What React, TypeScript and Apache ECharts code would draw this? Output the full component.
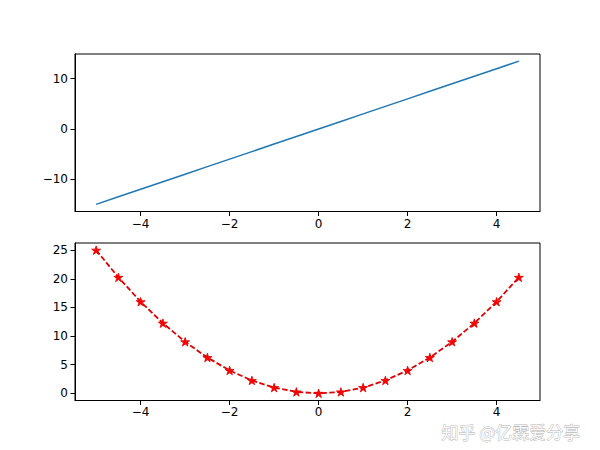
import React, { useEffect, useRef } from "react";
import * as echarts from "echarts";

const xValues = [-5, -4.5, -4, -3.5, -3, -2.5, -2, -1.5, -1, -0.5, 0, 0.5, 1, 1.5, 2, 2.5, 3, 3.5, 4, 4.5];
const linearValues = [-15, -13.5, -12, -10.5, -9, -7.5, -6, -4.5, -3, -1.5, 0, 1.5, 3, 4.5, 6, 7.5, 9, 10.5, 12, 13.5];
const squareValues = [25, 20.25, 16, 12.25, 9, 6.25, 4, 2.25, 1, 0.25, 0, 0.25, 1, 2.25, 4, 6.25, 9, 12.25, 16, 20.25];
const watermark = "知乎 @亿霖爱分享";

const STAR =
  "path://M0,-1L0.2245,-0.309L0.951,-0.309L0.363,0.118L0.588,0.809L0,0.382L-0.588,0.809L-0.363,0.118L-0.951,-0.309L-0.2245,-0.309Z";

const fmt = (v: number) => String(v).replace("-", "\u2212");

function axisCommon(min: number, max: number, splitNumber = 5, margin = 7) {
  return {
    type: "value" as const,
    min,
    max,
    splitNumber,
    scale: true,
    splitLine: { show: false },
    axisLine: { show: true, onZero: false, lineStyle: { color: "#000", width: 1 } },
    axisTick: { show: true, inside: false, length: 4.5, lineStyle: { color: "#000", width: 1 } },
    axisLabel: {
      color: "#000",
      fontSize: 12,
      lineHeight: 12,
      fontFamily: "DejaVu Sans",
      margin,
      showMinLabel: false,
      showMaxLabel: false,
      formatter: fmt,
    },
  };
}

export default function App() {
  const ref = useRef<HTMLDivElement>(null);
  useEffect(() => {
    if (!ref.current) return;
    const chart = echarts.init(ref.current, undefined, { renderer: "svg" });
    const xr: [number, number] = [-5.475, 4.975];
    chart.setOption({
      animation: false,
      backgroundColor: "#fff",
      grid: [
        { left: 75, top: 54, width: 465, height: 157.5, show: true, borderColor: "#000", borderWidth: 1, backgroundColor: "transparent" },
        { left: 75, top: 243, width: 465, height: 157.5, show: true, borderColor: "#000", borderWidth: 1, backgroundColor: "transparent" },
      ],
      xAxis: [
        { ...axisCommon(xr[0], xr[1], 5, 6), gridIndex: 0 },
        { ...axisCommon(xr[0], xr[1], 5, 5), gridIndex: 1 },
      ],
      yAxis: [
        { ...axisCommon(-16.425, 14.925, 3), gridIndex: 0 },
        { ...axisCommon(-1.25, 26.25), gridIndex: 1 },
      ],
      series: [
        {
          type: "line",
          xAxisIndex: 0,
          yAxisIndex: 0,
          data: xValues.map((x, i) => [x, linearValues[i]]),
          showSymbol: false,
          symbol: "none",
          lineStyle: { color: "#1f77b4", width: 1.5 },
        },
        {
          type: "line",
          xAxisIndex: 1,
          yAxisIndex: 1,
          data: xValues.map((x, i) => [x, squareValues[i]]),
          symbol: STAR,
          symbolSize: 9,
          symbolKeepAspect: true,
          showSymbol: true,
          itemStyle: { color: "#ff0000", borderColor: "#e00000", borderWidth: 0.8 },
          lineStyle: { color: "#e00000", width: 1.8, type: [5.5, 2.4] },
        },
      ],
      graphic: [
        {
          type: "text",
          left: 441,
          top: 423,
          style: {
            text: watermark,
            fontSize: 17,
            lineHeight: 17,
            fontFamily: "Noto Sans CJK SC",
            fill: "rgba(255,255,255,0.9)",
            stroke: "#b8b8b8",
            lineWidth: 0.8,
          },
        },
      ],
    });
    return () => chart.dispose();
  }, []);
  return <div ref={ref} style={{ position: "fixed", left: 0, top: 0, width: 600, height: 450 }} />;
}
